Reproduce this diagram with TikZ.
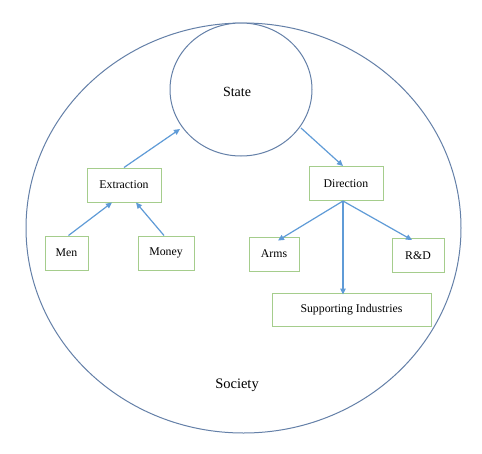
\documentclass[tikz,border=0pt]{standalone}
\usepackage{fontspec}
\setmainfont{Liberation Serif}
\usetikzlibrary{arrows.meta,shapes.geometric}
\definecolor{ringc}{RGB}{100,128,168}
\definecolor{boxc}{RGB}{165,205,140}
\definecolor{arrc}{RGB}{95,155,215}
\tikzset{
  box/.style={draw=boxc,line width=1pt,minimum height=34pt,inner sep=0pt,font=\fontsize{11.8}{13}\selectfont,fill=white},
  arr/.style={draw=arrc,line width=1.2pt,-{Triangle[length=6pt,width=5.5pt]}},
  ring/.style={draw=ringc,line width=1pt,ellipse,inner sep=0pt}
}
\begin{document}
\begin{tikzpicture}[x=1pt,y=-1pt]
\useasboundingbox (0,0) rectangle (482,453);
\fill[white] (0,0) rectangle (482,453);
\node[ring,minimum width=435pt,minimum height=410pt] (society) at (243.5,228) {};
\node[font=\fontsize{14.5}{16}\selectfont] (soclabel) at (237,385) {Society};
\node[ring,minimum width=142pt,minimum height=133pt,fill=white] (state) at (241,89.5) {};
\node[font=\fontsize{14}{16}\selectfont] (statelabel) at (237,92) {State};
\node[box,minimum width=74pt] (extr) at (124,185) {Extraction};
\node[box,minimum width=74pt] (dir) at (346,183.5) {Direction};
\node[box,minimum width=43pt] (men) at (66.5,253) {Men};
\node[box,minimum width=56pt] (money) at (166,253) {Money};
\node[box,minimum width=50pt] (arms) at (274,254) {Arms};
\node[box,minimum width=52pt] (rd) at (418,255.5) {R\&D};
\node[box,minimum width=159pt,minimum height=33pt] (supp) at (351.5,309.5) {Supporting Industries};
\coordinate (stin) at (180,129);
\coordinate (stout) at (301,128);
\draw[arr] (extr.north) -- (stin);
\draw[arr] (stout) -- ([xshift=-3pt]dir.north);
\draw[arr] ([xshift=2pt]men.north) -- ([xshift=-12pt]extr.south);
\draw[arr] ([xshift=-2pt]money.north) -- ([xshift=12pt]extr.south);
\draw[arr] ([xshift=-3pt]dir.south) -- ([xshift=4pt,yshift=-4pt]arms.north);
\draw[arr] ([xshift=-3pt]dir.south) -- ([xshift=-6pt,yshift=-2pt]rd.north);
\draw[arr] ([xshift=-3pt]dir.south) -- ([xshift=-8.5pt,yshift=-2pt]supp.north);
\end{tikzpicture}
\end{document}
